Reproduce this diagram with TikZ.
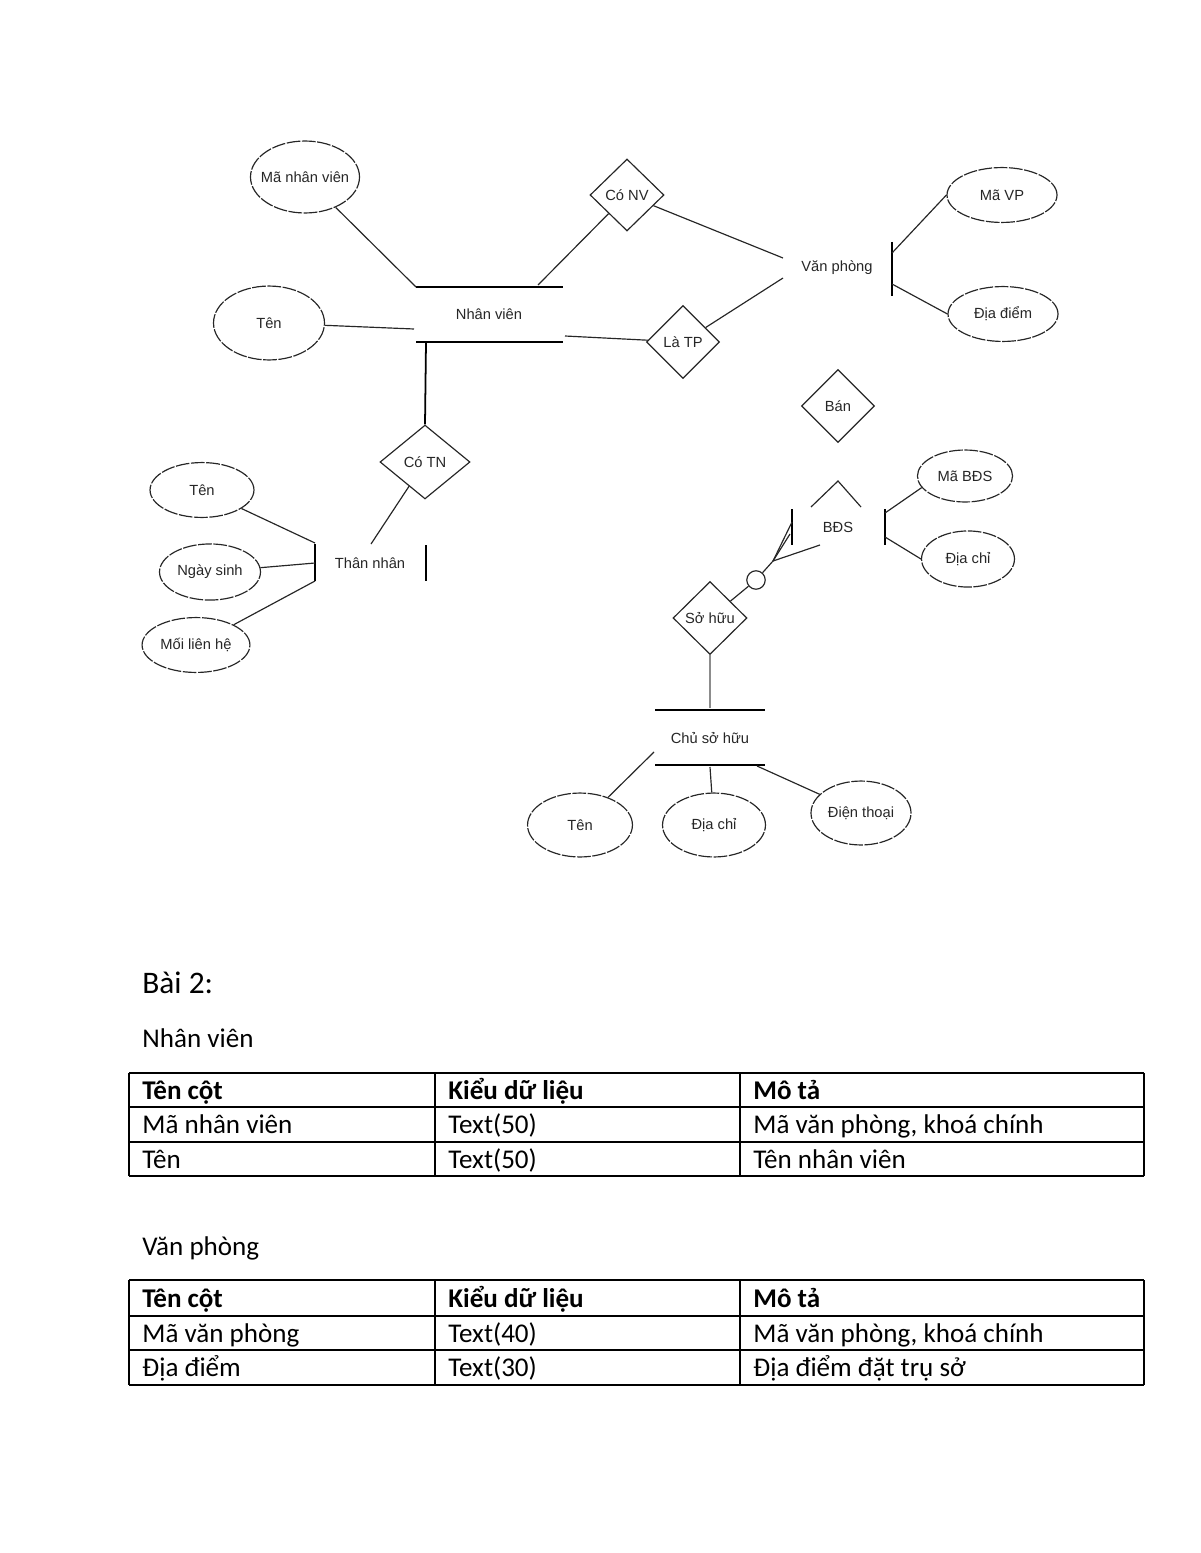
\documentclass[tikz,border=0pt]{standalone}
\usepackage{fontspec}
\setmainfont{Carlito}
\newfontfamily\diagfont{Liberation Sans}
\usetikzlibrary{shapes.geometric}
\begin{document}
\begin{tikzpicture}[x=0.51pt,y=-0.51pt,
  ln/.style={line width=0.6pt, draw=black!85},
  bar/.style={line width=0.9pt, draw=black},
  dfont/.style={font=\diagfont\fontsize{7.5}{9}\selectfont, text=black!85},
  attr/.style={draw, ellipse, ln, dash pattern=on 7pt off 0.8pt, inner sep=0pt},
  rel/.style={draw, diamond, ln, inner sep=0pt, dfont},
  lbl/.style={inner sep=0pt, dfont},
  tline/.style={line width=1.2pt},
  cell/.style={anchor=base west, inner sep=0pt, font=\fontsize{13.8}{16}\selectfont},
  hcell/.style={anchor=base west, inner sep=0pt, font=\bfseries\fontsize{13.8}{16}\selectfont}
]
\useasboundingbox (0,0) rectangle (1200,1553);

% ---------- Nhân viên ----------
\node[lbl] (nv) at (489,314) {Nhân viên};
\coordinate (nvtl) at (416,287); \coordinate (nvtr) at (563,287);
\coordinate (nvbl) at (416,342); \coordinate (nvbr) at (563,342);
\coordinate (nvc1) at (538,285);
\coordinate (nvl) at (414,329);
\coordinate (nvr) at (565,336);
\coordinate (nvd) at (426,342);
\draw[bar] (nvtl) -- (nvtr);
\draw[bar] (nvbl) -- (nvbr);

\node[attr, minimum width=55.6pt, minimum height=36.7pt, label={[lbl]center:Mã nhân viên}] (mnv) at (305,177) {};
\node[attr, minimum width=56.6pt, minimum height=37.7pt, label={[lbl]center:Tên}] (ten1) at (269,323) {};
\node[rel, minimum width=37.7pt, minimum height=36.7pt] (conv) at (627,195) {Có NV};
\node[rel, minimum width=37.2pt, minimum height=37.2pt] (latp) at (683,342) {Là TP};

\draw[ln] (mnv) -- (nvtl);
\draw[ln] (conv) -- (nvc1);
\draw[ln] (ten1) -- (nvl);
\draw[ln] (nvr) -- (latp);

% ---------- Văn phòng ----------
\node[lbl] (vp) at (837,268) {Văn phòng};
\coordinate (vpl1) at (783,258);
\coordinate (vpl2) at (783,278);
\coordinate (vpbt) at (892,242); \coordinate (vpbb) at (892,296);
\coordinate (vpa1) at (892,253); \coordinate (vpa2) at (892,284);
\draw[bar] (vpbt) -- (vpbb);
\node[attr, minimum width=56.1pt, minimum height=28pt, label={[lbl]center:Mã VP}] (mavp) at (1002,195) {};
\node[attr, minimum width=56.1pt, minimum height=28pt, label={[lbl]center:Địa điểm}] (diadiem) at (1003,314) {};
\draw[ln] (conv) -- (vpl1);
\draw[ln] (latp) -- (vpl2);
\draw[ln] (vpa1) -- (mavp.west);
\draw[ln] (vpa2) -- (diadiem.west);

% ---------- Có TN / Thân nhân ----------
\node[rel, minimum width=45.9pt, minimum height=37.7pt] (cotn) at (425,462) {Có TN};
\draw[bar] (nvd) -- (cotn.north);
\node[lbl] (tn) at (370,563) {Thân nhân};
\coordinate (tnt) at (371,544);
\coordinate (tnlt) at (315,544); \coordinate (tnlb) at (315,581);
\coordinate (tnrt) at (426,545); \coordinate (tnrb) at (426,581);
\coordinate (tn1) at (315,543); \coordinate (tn2) at (315,563); \coordinate (tn3) at (315,581);
\draw[bar] (tnlt) -- (tnlb);
\draw[bar] (tnrt) -- (tnrb);
\draw[ln] (cotn) -- (tnt);
\node[attr, minimum width=53pt, minimum height=28pt, label={[lbl]center:Tên}] (ten2) at (202,490) {};
\node[attr, minimum width=51.5pt, minimum height=28.6pt, label={[lbl]center:Ngày sinh}] (ngaysinh) at (210,572) {};
\node[attr, minimum width=55pt, minimum height=28pt, label={[lbl]center:Mối liên hệ}] (mlh) at (196,645) {};
\draw[ln] (ten2) -- (tn1);
\draw[ln] (ngaysinh) -- (tn2);
\draw[ln] (mlh) -- (tn3);

% ---------- Bán / BĐS ----------
\node[rel, minimum width=37.2pt, minimum height=37.2pt] (ban) at (838,406) {Bán};
\node[lbl] (bds) at (838,527) {BĐS};
\coordinate (trl) at (811,507); \coordinate (trt) at (838,481); \coordinate (trr) at (861,507);
\draw[ln] (trl) -- (trt) -- (trr);
\coordinate (bdslt) at (792,509); \coordinate (bdslb) at (792,545);
\coordinate (bdsrt) at (885,509); \coordinate (bdsrb) at (885,545);
\draw[bar] (bdslt) -- (bdslb);
\draw[bar] (bdsrt) -- (bdsrb);
\coordinate (bdsr1) at (885,513); \coordinate (bdsr2) at (885,537);
\node[attr, minimum width=48.5pt, minimum height=26.5pt, label={[lbl]center:Mã BĐS}] (mabds) at (965,476) {};
\node[attr, minimum width=47.4pt, minimum height=28.6pt, label={[lbl]center:Địa chỉ}] (diachi1) at (968,559) {};
\draw[ln] (bdsr1) -- (mabds.-165);
\draw[ln] (bdsr2) -- (diachi1.west);
% crow's foot
\coordinate (cf) at (773,561);
\coordinate (cfa) at (792,522); \coordinate (cfb) at (790,534); \coordinate (cfc) at (820,545);
\draw[ln] (cf) -- (cfa);
\draw[ln] (cf) -- (cfb);
\draw[ln] (cf) -- (cfc);
\node[draw, circle, ln, minimum size=9.4pt, inner sep=0pt] (circ) at (756,580) {};
\draw[ln] (cf) -- (circ);
\node[rel, minimum width=37.7pt, minimum height=37.2pt] (sohuu) at (710,618) {Sở hữu};
\draw[ln] (circ) -- (sohuu);

% ---------- Chủ sở hữu ----------
\node[lbl] (csh) at (710,738) {Chủ sở hữu};
\coordinate (csht) at (710,708);
\coordinate (cshtl) at (655,710); \coordinate (cshtr) at (765,710);
\coordinate (cshbl) at (655,765); \coordinate (cshbr) at (765,765);
\draw[bar] (cshtl) -- (cshtr);
\draw[bar] (cshbl) -- (cshbr);
\draw[line width=0.6pt, black!45] (sohuu) -- (csht);
\coordinate (csh1) at (654,752); \coordinate (csh2) at (710,767); \coordinate (csh3) at (757,766);
\node[attr, minimum width=53.5pt, minimum height=32.6pt, label={[lbl]center:Tên}] (ten3) at (580,825) {};
\node[attr, minimum width=52.5pt, minimum height=32.6pt, label={[lbl]center:Địa chỉ}] (diachi2) at (714,825) {};
\node[attr, minimum width=51pt, minimum height=32.6pt, label={[lbl]center:Điện thoại}] (dthoai) at (861,813) {};
\draw[ln] (csh1) -- (ten3);
\draw[ln] (csh2) -- (diachi2);
\draw[ln] (csh3) -- (dthoai);

% ---------- Text ----------
\node[cell, font=\fontsize{16}{19}\selectfont] (bai) at (142,993) {Bài 2:};
\node[cell] (t1title) at (142,1047) {Nhân viên};
\node[cell] (t2title) at (142,1255) {Văn phòng};

% ---------- Table 1 ----------
\foreach \yy in {1073,1107,1142,1176} \draw[tline] (129,\yy) -- (1144,\yy);
\foreach \xx in {129,435,740,1144} \draw[tline] (\xx,1073) -- (\xx,1176);
\node[hcell] (a11) at (142,1099) {Tên cột};
\node[hcell] (a12) at (448,1099) {Kiểu dữ liệu};
\node[hcell] (a13) at (753,1099) {Mô tả};
\node[cell] (a21) at (142,1133) {Mã nhân viên};
\node[cell] (a22) at (448,1133) {Text(50)};
\node[cell] (a23) at (753,1133) {Mã văn phòng, khoá chính};
\node[cell] (a31) at (142,1168) {Tên};
\node[cell] (a32) at (448,1168) {Text(50)};
\node[cell] (a33) at (753,1168) {Tên nhân viên};

% ---------- Table 2 ----------
\foreach \yy in {1280,1316,1350,1385} \draw[tline] (129,\yy) -- (1144,\yy);
\foreach \xx in {129,435,740,1144} \draw[tline] (\xx,1280) -- (\xx,1385);
\node[hcell] (b11) at (142,1307) {Tên cột};
\node[hcell] (b12) at (448,1307) {Kiểu dữ liệu};
\node[hcell] (b13) at (753,1307) {Mô tả};
\node[cell] (b21) at (142,1342) {Mã văn phòng};
\node[cell] (b22) at (448,1342) {Text(40)};
\node[cell] (b23) at (753,1342) {Mã văn phòng, khoá chính};
\node[cell] (b31) at (142,1376) {Địa điểm};
\node[cell] (b32) at (448,1376) {Text(30)};
\node[cell] (b33) at (753,1376) {Địa điểm đặt trụ sở};
\end{tikzpicture}
\end{document}
